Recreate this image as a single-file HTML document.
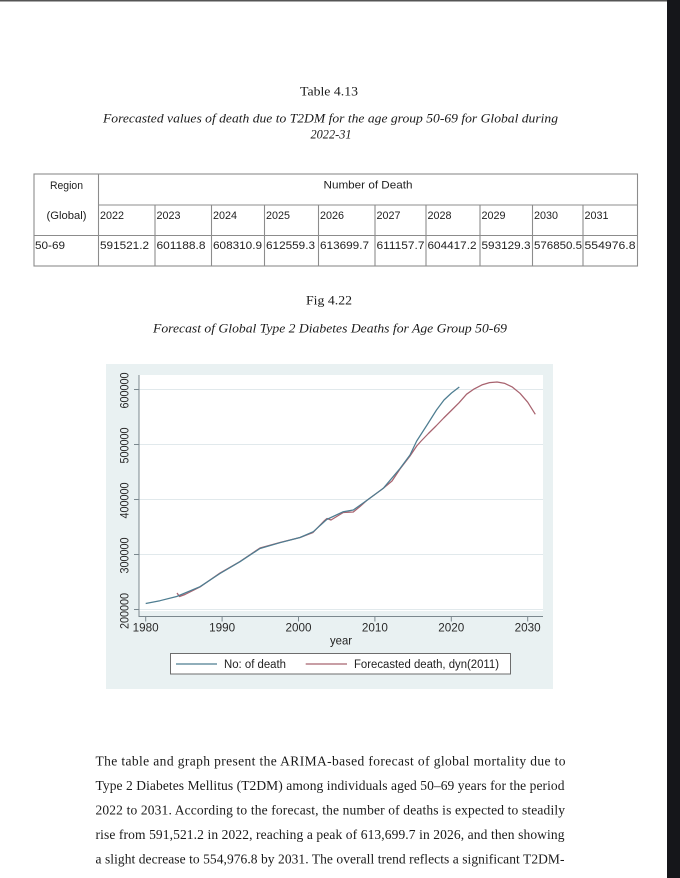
<!DOCTYPE html>
<html>
<head>
<meta charset="utf-8">
<style>
  html, body { margin:0; padding:0; background:#fff; }
  body { width:680px; height:878px; overflow:hidden; }
  svg { display:block; }
  .serif { font-family: "Liberation Serif", "Times New Roman", serif; fill:#1a1a1a; }
  .sans { font-family: "Liberation Sans", Arial, sans-serif; fill:#222; }
  .tab { font-family: "Liberation Sans", Arial, sans-serif; font-size:11px; fill:#1e1e1e; }
  .tick { font-family: "Liberation Sans", Arial, sans-serif; font-size:11.5px; fill:#2a2a2a; }
</style>
</head>
<body>
<svg width="680" height="878" viewBox="0 0 680 878" xmlns="http://www.w3.org/2000/svg">
  <!-- page -->
  <rect x="0" y="0" width="680" height="878" fill="#ffffff"/>
  <rect x="0" y="0" width="667" height="1.5" fill="#555555"/>
  <rect x="667" y="0" width="13" height="878" fill="#15161a"/>

  <!-- Table title -->
  <text class="serif" x="329" y="95.5" font-size="13" text-anchor="middle" textLength="58" lengthAdjust="spacingAndGlyphs">Table 4.13</text>
  <text class="serif" x="330.5" y="122.5" font-size="13" font-style="italic" text-anchor="middle" textLength="455" lengthAdjust="spacingAndGlyphs">Forecasted values of death due to T2DM for the age group 50-69 for Global during</text>
  <text class="serif" x="331" y="138.5" font-size="13" font-style="italic" text-anchor="middle" textLength="41" lengthAdjust="spacingAndGlyphs">2022-31</text>

  <!-- Table -->
  <g stroke="#8c8c8c" stroke-width="1.1" fill="none">
    <rect x="34" y="174" width="603.5" height="92"/>
    <line x1="98.5" y1="205" x2="637.5" y2="205"/>
    <line x1="34" y1="235.5" x2="637.5" y2="235.5"/>
    <line x1="98.5" y1="174" x2="98.5" y2="266"/>
    <line x1="155" y1="205" x2="155" y2="266"/>
    <line x1="211.5" y1="205" x2="211.5" y2="266"/>
    <line x1="264.5" y1="205" x2="264.5" y2="266"/>
    <line x1="318.5" y1="205" x2="318.5" y2="266"/>
    <line x1="375" y1="205" x2="375" y2="266"/>
    <line x1="426" y1="205" x2="426" y2="266"/>
    <line x1="480" y1="205" x2="480" y2="266"/>
    <line x1="532.5" y1="205" x2="532.5" y2="266"/>
    <line x1="583" y1="205" x2="583" y2="266"/>
  </g>
  <text class="tab" x="66.5" y="189" text-anchor="middle" textLength="33" lengthAdjust="spacingAndGlyphs">Region</text>
  <text class="tab" x="368" y="188.5" text-anchor="middle" textLength="89" lengthAdjust="spacingAndGlyphs">Number of Death</text>
  <text class="tab" x="66.5" y="219" text-anchor="middle" textLength="40" lengthAdjust="spacingAndGlyphs">(Global)</text>
  <g class="tab">
    <text x="100" y="219" textLength="24" lengthAdjust="spacingAndGlyphs">2022</text>
    <text x="156.5" y="219" textLength="24" lengthAdjust="spacingAndGlyphs">2023</text>
    <text x="213" y="219" textLength="24" lengthAdjust="spacingAndGlyphs">2024</text>
    <text x="266" y="219" textLength="24" lengthAdjust="spacingAndGlyphs">2025</text>
    <text x="320" y="219" textLength="24" lengthAdjust="spacingAndGlyphs">2026</text>
    <text x="376.5" y="219" textLength="24" lengthAdjust="spacingAndGlyphs">2027</text>
    <text x="427.5" y="219" textLength="24" lengthAdjust="spacingAndGlyphs">2028</text>
    <text x="481.5" y="219" textLength="24" lengthAdjust="spacingAndGlyphs">2029</text>
    <text x="534" y="219" textLength="24" lengthAdjust="spacingAndGlyphs">2030</text>
    <text x="584.5" y="219" textLength="24" lengthAdjust="spacingAndGlyphs">2031</text>

    <text x="35" y="249" textLength="30" lengthAdjust="spacingAndGlyphs">50-69</text>
    <text x="100" y="249" textLength="49" lengthAdjust="spacingAndGlyphs">591521.2</text>
    <text x="156.5" y="249" textLength="49" lengthAdjust="spacingAndGlyphs">601188.8</text>
    <text x="213" y="249" textLength="49" lengthAdjust="spacingAndGlyphs">608310.9</text>
    <text x="266" y="249" textLength="49" lengthAdjust="spacingAndGlyphs">612559.3</text>
    <text x="320" y="249" textLength="49" lengthAdjust="spacingAndGlyphs">613699.7</text>
    <text x="376.5" y="249" textLength="48" lengthAdjust="spacingAndGlyphs">611157.7</text>
    <text x="427.5" y="249" textLength="49" lengthAdjust="spacingAndGlyphs">604417.2</text>
    <text x="481.5" y="249" textLength="49" lengthAdjust="spacingAndGlyphs">593129.3</text>
    <text x="534" y="249" textLength="48" lengthAdjust="spacingAndGlyphs">576850.5</text>
    <text x="584.5" y="249" textLength="51" lengthAdjust="spacingAndGlyphs">554976.8</text>
  </g>

  <!-- Figure title -->
  <text class="serif" x="329" y="304.5" font-size="13" text-anchor="middle" textLength="46" lengthAdjust="spacingAndGlyphs">Fig 4.22</text>
  <text class="serif" x="330" y="332.5" font-size="13" font-style="italic" text-anchor="middle" textLength="354" lengthAdjust="spacingAndGlyphs">Forecast of Global Type 2 Diabetes Deaths for Age Group 50-69</text>

  <!-- Chart panel -->
  <rect x="106" y="364" width="447" height="325" fill="#e9f1f2"/>
  <rect x="139" y="375" width="404" height="236" fill="#ffffff"/>
  <g stroke="#e1e9ec" stroke-width="1">
    <line x1="139" y1="389.5" x2="543" y2="389.5"/>
    <line x1="139" y1="444.5" x2="543" y2="444.5"/>
    <line x1="139" y1="499.5" x2="543" y2="499.5"/>
    <line x1="139" y1="554.5" x2="543" y2="554.5"/>
    <line x1="139" y1="609.5" x2="543" y2="609.5"/>
  </g>
  <!-- axes -->
  <g stroke="#7b888e" stroke-width="1">
    <line x1="139" y1="375" x2="139" y2="617"/>
    <line x1="139" y1="616.5" x2="543" y2="616.5"/>
    <line x1="134" y1="389.5" x2="139" y2="389.5"/>
    <line x1="134" y1="444.5" x2="139" y2="444.5"/>
    <line x1="134" y1="499.5" x2="139" y2="499.5"/>
    <line x1="134" y1="554.5" x2="139" y2="554.5"/>
    <line x1="134" y1="609.5" x2="139" y2="609.5"/>
    <line x1="145.7" y1="616.5" x2="145.7" y2="621.5"/>
    <line x1="222.1" y1="616.5" x2="222.1" y2="621.5"/>
    <line x1="298.5" y1="616.5" x2="298.5" y2="621.5"/>
    <line x1="374.9" y1="616.5" x2="374.9" y2="621.5"/>
    <line x1="451.3" y1="616.5" x2="451.3" y2="621.5"/>
    <line x1="527.7" y1="616.5" x2="527.7" y2="621.5"/>
  </g>
  <!-- y labels -->
  <g class="tick" text-anchor="middle">
    <text transform="translate(128.5,390.5) rotate(-90)" textLength="36" lengthAdjust="spacingAndGlyphs">600000</text>
    <text transform="translate(128.5,445.5) rotate(-90)" textLength="36" lengthAdjust="spacingAndGlyphs">500000</text>
    <text transform="translate(128.5,500.5) rotate(-90)" textLength="36" lengthAdjust="spacingAndGlyphs">400000</text>
    <text transform="translate(128.5,555.5) rotate(-90)" textLength="36" lengthAdjust="spacingAndGlyphs">300000</text>
    <text transform="translate(128.5,611) rotate(-90)" textLength="36" lengthAdjust="spacingAndGlyphs">200000</text>
  </g>
  <!-- x labels -->
  <g class="tick" text-anchor="middle">
    <text x="145.7" y="631.5" textLength="26" lengthAdjust="spacingAndGlyphs">1980</text>
    <text x="222.1" y="631.5" textLength="26" lengthAdjust="spacingAndGlyphs">1990</text>
    <text x="298.5" y="631.5" textLength="26" lengthAdjust="spacingAndGlyphs">2000</text>
    <text x="374.9" y="631.5" textLength="26" lengthAdjust="spacingAndGlyphs">2010</text>
    <text x="451.3" y="631.5" textLength="26" lengthAdjust="spacingAndGlyphs">2020</text>
    <text x="527.7" y="631.5" textLength="26" lengthAdjust="spacingAndGlyphs">2030</text>
  </g>
  <text class="sans" x="341" y="644.5" font-size="12" text-anchor="middle" textLength="22" lengthAdjust="spacingAndGlyphs">year</text>

  <!-- series -->
  <polyline fill="none" stroke="#a8636f" stroke-width="1.25" stroke-linejoin="round"
    points="177,593 179.5,596.5 185,594.5 200,587 220,573 240,561.5 260,548 280,542.5 300,537.5 313,532.5 324,521 327,518.5 331,520 343.3,512.5 353.3,512 360,506.5 366.7,500.5 383.3,488.3 392,481 400,469 410,456 416.7,446 420.7,441.5 428.4,433.5 436,426 443.7,418 451.3,410.5 459,402.8 466.6,394.2 474.2,388.9 481.9,384.9 489.5,382.6 497.1,382.0 504.8,383.4 512.4,387.1 520.0,393.3 527.7,402.2 535.3,414.3"/>
  <polyline fill="none" stroke="#4e7d91" stroke-width="1.25" stroke-linejoin="round"
    points="145.7,603.5 160,600.7 176.7,596.5 200,586.7 220,573.5 240,561.7 260,548.5 280,542.7 300,537.5 313.3,531.7 326.7,519.5 343.3,511.7 353.3,510 366.7,500.5 383.3,488.3 400,468.5 410,455 416.7,441 426.7,425.5 436.5,410 444,400 451.5,393 459.3,387"/>

  <!-- legend -->
  <rect x="170.5" y="653.5" width="340" height="20.5" fill="#ffffff" stroke="#6d6d6d" stroke-width="1"/>
  <line x1="176" y1="664" x2="217" y2="664" stroke="#4e7d91" stroke-width="1.25"/>
  <text class="sans" x="224" y="668" font-size="11.5" textLength="62" lengthAdjust="spacingAndGlyphs">No: of death</text>
  <line x1="305.7" y1="664" x2="347" y2="664" stroke="#a8636f" stroke-width="1.25"/>
  <text class="sans" x="354" y="668" font-size="11.5" textLength="145" lengthAdjust="spacingAndGlyphs">Forecasted death, dyn(2011)</text>

  <!-- paragraph -->
  <g class="serif" font-size="13.5">
    <text x="95.5" y="765.5" textLength="470" lengthAdjust="spacing">The table and graph present the ARIMA-based forecast of global mortality due to</text>
    <text x="95.5" y="790" textLength="469" lengthAdjust="spacing">Type 2 Diabetes Mellitus (T2DM) among individuals aged 50–69 years for the period</text>
    <text x="95.5" y="814.5" textLength="469.5" lengthAdjust="spacing">2022 to 2031. According to the forecast, the number of deaths is expected to steadily</text>
    <text x="95.5" y="839" textLength="469" lengthAdjust="spacing">rise from 591,521.2 in 2022, reaching a peak of 613,699.7 in 2026, and then showing</text>
    <text x="95.5" y="863.5" textLength="469" lengthAdjust="spacing">a slight decrease to 554,976.8 by 2031. The overall trend reflects a significant T2DM-</text>
  </g>
</svg>
</body>
</html>
